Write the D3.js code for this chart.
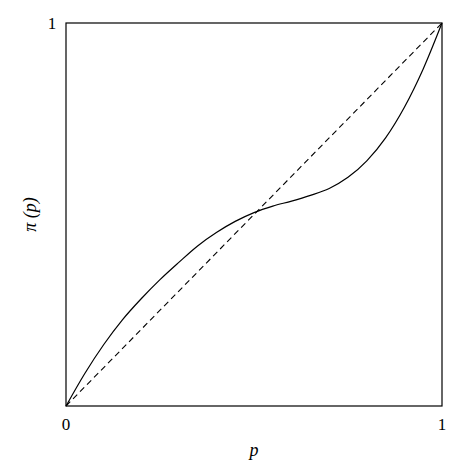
<!DOCTYPE html>
<html><head><meta charset="utf-8">
<script src="https://cdn.jsdelivr.net/npm/d3@7"></script>
<style>body{margin:0;background:#fff}</style></head>
<body><svg id="c" width="474" height="474"></svg>
<script>
const pVals=[0,0.05,0.1,0.15,0.2,0.25,0.3,0.35,0.4,0.45,0.5,0.55,0.6,0.65,0.7,0.75,0.8,0.85,0.9,0.95,1];
const piVals=[0,0.085,0.16,0.225,0.28,0.33,0.375,0.418,0.453,0.482,0.505,0.522,0.535,0.55,0.568,0.597,0.64,0.7,0.78,0.88,1];
const diag=[0,1];
const tickLabels=["0","1"];
const svg=d3.select("#c");
const m={l:66,r:442,t:23,b:406};
const x=d3.scaleLinear().domain([0,1]).range([m.l,m.r]);
const y=d3.scaleLinear().domain([0,1]).range([m.b,m.t]);
const font="Liberation Serif, serif";
svg.append("rect").attr("x",m.l).attr("y",m.t).attr("width",m.r-m.l).attr("height",m.b-m.t).attr("fill","none").attr("stroke","#000").attr("stroke-width",1.2);
svg.append("path").datum(diag).attr("d",d3.line().x(d=>x(d)).y(d=>y(d))).attr("stroke","#000").attr("stroke-dasharray","6,4").attr("fill","none").attr("stroke-width",1.1);
svg.append("path").datum(pVals.map((p,i)=>[p,piVals[i]])).attr("d",d3.line().x(d=>x(d[0])).y(d=>y(d[1])).curve(d3.curveMonotoneX)).attr("stroke","#000").attr("fill","none").attr("stroke-width",1.2);
svg.append("text").attr("x",x(0)).attr("y",m.b+24).attr("text-anchor","middle").attr("font-family",font).attr("font-size",17).text(tickLabels[0]);
svg.append("text").attr("x",x(1)).attr("y",m.b+24).attr("text-anchor","middle").attr("font-family",font).attr("font-size",17).text(tickLabels[1]);
svg.append("text").attr("x",m.l-14).attr("y",y(1)+6).attr("text-anchor","middle").attr("font-family",font).attr("font-size",17).text(tickLabels[1]);
svg.append("text").attr("x",(m.l+m.r)/2).attr("y",m.b+50).attr("text-anchor","middle").attr("font-family",font).attr("font-size",18).attr("font-style","italic").text("p");
svg.append("text").attr("transform",`translate(${m.l-30},${(m.t+m.b)/2}) rotate(-90)`).attr("text-anchor","middle").attr("font-family",font).attr("font-size",18).attr("font-style","italic").text("π (p)");
</script></body></html>
